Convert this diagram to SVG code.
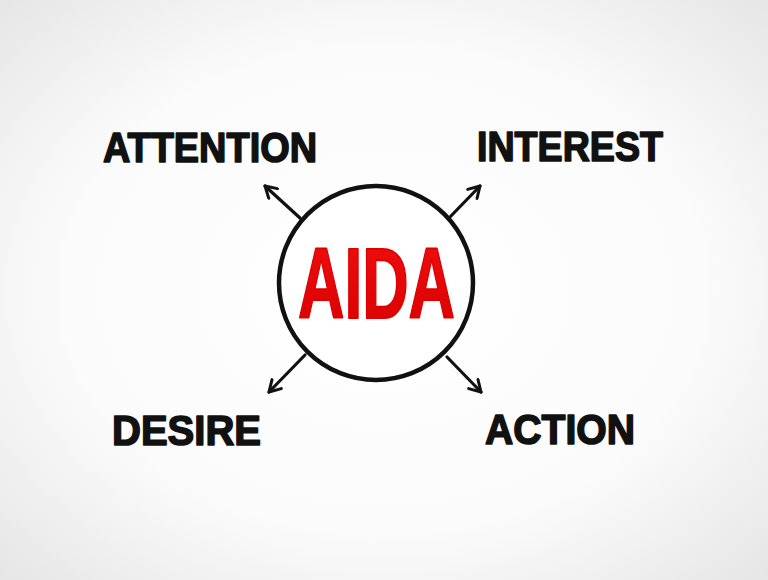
<svg xmlns="http://www.w3.org/2000/svg" width="768" height="580" viewBox="0 0 768 580">
<defs>
<radialGradient id="bg" cx="50%" cy="50%" r="70%">
<stop offset="0" stop-color="#ffffff"/>
<stop offset="0.6" stop-color="#fbfbfb"/>
<stop offset="1" stop-color="#e6e6e6"/>
</radialGradient>
<linearGradient id="red" x1="0" y1="0" x2="0" y2="1">
<stop offset="0" stop-color="#f01010"/>
<stop offset="1" stop-color="#d80000"/>
</linearGradient>
<marker id="ah" viewBox="0 0 16 16" refX="13" refY="8" markerWidth="16" markerHeight="16" markerUnits="userSpaceOnUse" orient="auto">
<path d="M2,1.5 L13,8 L2,14.5" fill="none" stroke="#111" stroke-width="3" stroke-linecap="round" stroke-linejoin="round"/>
</marker>
</defs>
<style>
.lbl{font-family:"Liberation Sans",Arial,sans-serif;font-weight:bold;font-size:42px;fill:#111;stroke:#111;stroke-width:1.6px;stroke-linejoin:round;}
.conn line{stroke:#111;stroke-width:3.2px;stroke-linecap:round;marker-end:url(#ah);}
</style>
<rect width="768" height="580" fill="url(#bg)"/>
<g id="connectors" class="conn">
<line x1="300" y1="218" x2="265" y2="186"/>
<line x1="450" y1="217" x2="480" y2="186"/>
<line x1="305" y1="355" x2="269" y2="392"/>
<line x1="447" y1="357" x2="481" y2="392"/>
</g>
<g id="center">
<circle cx="376" cy="283" r="97" fill="#fff" stroke="#111" stroke-width="4.5"/>
<text x="298" y="318" font-family="'Liberation Sans',Arial,sans-serif" font-weight="bold" font-size="101" fill="url(#red)" stroke="#e00000" stroke-width="2" stroke-linejoin="round" textLength="157" lengthAdjust="spacingAndGlyphs">AIDA</text>
</g>
<g id="attention"><text class="lbl" x="103" y="162" textLength="214" lengthAdjust="spacingAndGlyphs">ATTENTION</text></g>
<g id="interest"><text class="lbl" x="477" y="161" textLength="186" lengthAdjust="spacingAndGlyphs">INTEREST</text></g>
<g id="desire"><text class="lbl" x="112" y="445" font-size="50" textLength="149" lengthAdjust="spacingAndGlyphs">DESIRE</text></g>
<g id="action"><text class="lbl" x="485" y="444" font-size="50" textLength="150" lengthAdjust="spacingAndGlyphs">ACTION</text></g>
</svg>
